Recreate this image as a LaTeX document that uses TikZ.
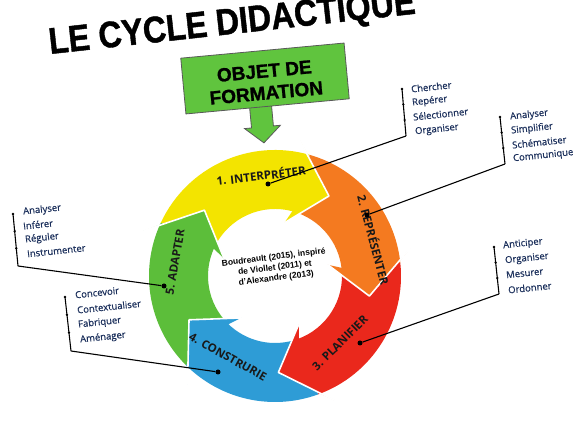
\documentclass[tikz,border=0pt]{standalone}
\usepackage{fontspec}
\setmainfont{Liberation Sans}
\newfontfamily\osans{Open Sans}
\newfontfamily\osansm{Open Sans}[FakeBold=0.6]
\newfontfamily\titlef{Liberation Sans}[BoldFeatures={FakeBold=1.2}]
\usetikzlibrary{calc}
\definecolor{cyY}{RGB}{243,228,0}
\definecolor{cyO}{RGB}{244,122,32}
\definecolor{cyR}{RGB}{234,40,28}
\definecolor{cyB}{RGB}{46,156,214}
\definecolor{cyG}{RGB}{92,190,58}
\definecolor{boxG}{RGB}{96,196,62}
\definecolor{navy}{RGB}{28,48,92}
\newcommand\cyRo{126}
\newcommand\cyRi{67}
\newcommand\cyRm{96.5}
\newcommand\cyRoo{139}
\newcommand\cyRii{54}
\newcommand\cybody[3]{\fill[#1] (#2:\cyRo) arc[start angle=#2,end angle=#3,radius=\cyRo] -- (#3:\cyRi) arc[start angle=#3,end angle=#2,radius=\cyRi] -- cycle;}
\newcommand\cyhead[2]{%
  \pgfmathsetmacro\cyhb{#2+19}%
  \pgfmathsetmacro\cyhs{#2+24}%
  \fill[#1] (\cyhb:\cyRo) -- (\cyhs:\cyRoo) -- (#2:\cyRm) -- (\cyhs:\cyRii) -- (\cyhb:\cyRi) -- cycle;
  \draw[white,line width=1.6pt,line join=round] (\cyhs:\cyRoo) -- (#2:\cyRm) -- (\cyhs:\cyRii);}
\tikzset{
  ringlab/.style={font=\osans\bfseries\fontsize{11.5}{13}\selectfont,text=black!90,inner sep=0},
  item/.style={font=\osansm\fontsize{9.5}{11}\selectfont,text=navy,anchor=west,rotate=6,inner sep=0},
  brk/.style={line width=1.1pt,black},
  conn/.style={line width=1.1pt,black},
  bigdot/.style={circle,fill=black,inner sep=0,minimum size=5pt},
  smalldot/.style={circle,fill=black,inner sep=0,minimum size=2.6pt},
}
\begin{document}
\begin{tikzpicture}[x=1pt,y=1pt]
\clip (0,0) rectangle (573,430);
\useasboundingbox (0,0) rectangle (573,430);
\fill[white] (0,0) rectangle (573,430);

% title
\node[anchor=base west,rotate=6.3,xscale=0.87,inner sep=0,font=\titlef\bfseries\fontsize{37}{40}\selectfont] (title) at (50,376) {LE CYCLE DIDACTIQUE};

% objet de formation box and arrow
\begin{scope}[shift={(265,351.5)},rotate=5.3]
  \filldraw[fill=boxG,draw=black!65,line width=0.8pt] (-18,-27) -- (-18,-48) -- (-25,-48) -- (-7,-64) -- (11,-48) -- (4,-48) -- (4,-27) -- cycle;
\end{scope}
\node[draw=black!65,fill=boxG,line width=0.8pt,minimum width=164,minimum height=56,rotate=5.3] (box) at (265,351.5) {};
\node[rotate=5.3,align=center,inner sep=0,font=\titlef\bfseries\fontsize{19}{22}\selectfont] (boxtxt) at ($(box.center)+(0.3,-3.5)$) {OBJET DE\\FORMATION};

% ring
\coordinate (C) at (275,154);
\begin{scope}[shift={(C)}]
  \cybody{cyY}{155}{74}
  \cybody{cyO}{74}{6}
  \cybody{cyR}{6}{-70}
  \cybody{cyB}{-70}{-135}
  \cybody{cyG}{-135}{-205}
  \cyhead{cyY}{56}
  \cyhead{cyO}{-12}
  \cyhead{cyR}{-88}
  \cyhead{cyB}{-153}
  \cyhead{cyG}{137}
\end{scope}

% ring labels
\node[ringlab,rotate=7] (l1) at (261,255) {1. INTERPRÉTER};
\node[ringlab,rotate=-75] (l2) at (374,190) {2. REPRÉSENTER};
\node[ringlab,rotate=45] (l3) at (340,87) {3. PLANIFIER};
\node[ringlab,rotate=-29] (l4) at (228,73) {4. CONSTRURIE};
\node[ringlab,rotate=80] (l5) at (175,168) {5. ADAPTER};

% centre text
\node[rotate=7,align=center,inner sep=0,font=\bfseries\fontsize{8.5}{10.5}\selectfont] (src) at (275,162) {Boudreault (2015), inspiré\\de Viollet (2011) et\\d'Alexandre (2013)};

% list 1
\coordinate (t1) at (402,341); \coordinate (b1) at (406,294);
\node[bigdot] (d1) at (268,246) {};
\node[item] (i11) at (411,341) {Chercher};
\node[item] (i12) at (412,327) {Repérer};
\node[item] (i13) at (413,313) {Sélectionner};
\node[item] (i14) at (415,298) {Organiser};
% list 2
\coordinate (t2) at (500,313); \coordinate (b2) at (505,266);
\node[bigdot] (d2) at (367,215) {};
\node[item] (i21) at (510,313) {Analyser};
\node[item] (i22) at (511,299) {Simplifier};
\node[item] (i23) at (512,285) {Schématiser};
\node[item] (i24) at (513,271) {Communiquer};
% list 3
\coordinate (t3) at (494,183); \coordinate (b3) at (499,136);
\node[bigdot] (d3) at (360,87) {};
\node[item] (i31) at (503,184) {Anticiper};
\node[item] (i32) at (505,169) {Organiser};
\node[item] (i33) at (506,155) {Mesurer};
\node[item] (i34) at (508,140) {Ordonner};
% list 4
\coordinate (t4) at (65,133); \coordinate (b4) at (71,79);
\node[bigdot] (d4) at (218,58) {};
\node[item] (i41) at (75,135) {Concevoir};
\node[item] (i42) at (77,120) {Contextualiser};
\node[item] (i43) at (78,105) {Fabriquer};
\node[item] (i44) at (80,90) {Aménager};
% list 5
\coordinate (t5) at (13,216); \coordinate (b5) at (18,164);
\node[bigdot] (d5) at (164,144) {};
\node[item] (i51) at (23,218) {Analyser};
\node[item] (i52) at (23,204) {Inférer};
\node[item] (i53) at (25,190) {Réguler};
\node[item] (i54) at (27,176) {Instrumenter};

\foreach \k in {1,...,5}{
  \draw[brk] (t\k) -- (b\k);
  \draw[conn] (b\k) -- (d\k);
  \node[smalldot] at (t\k) {};
  \node[smalldot] at ($(t\k)!0.33!(b\k)$) {};
  \node[smalldot] at ($(t\k)!0.66!(b\k)$) {};
}
\end{tikzpicture}
\end{document}
